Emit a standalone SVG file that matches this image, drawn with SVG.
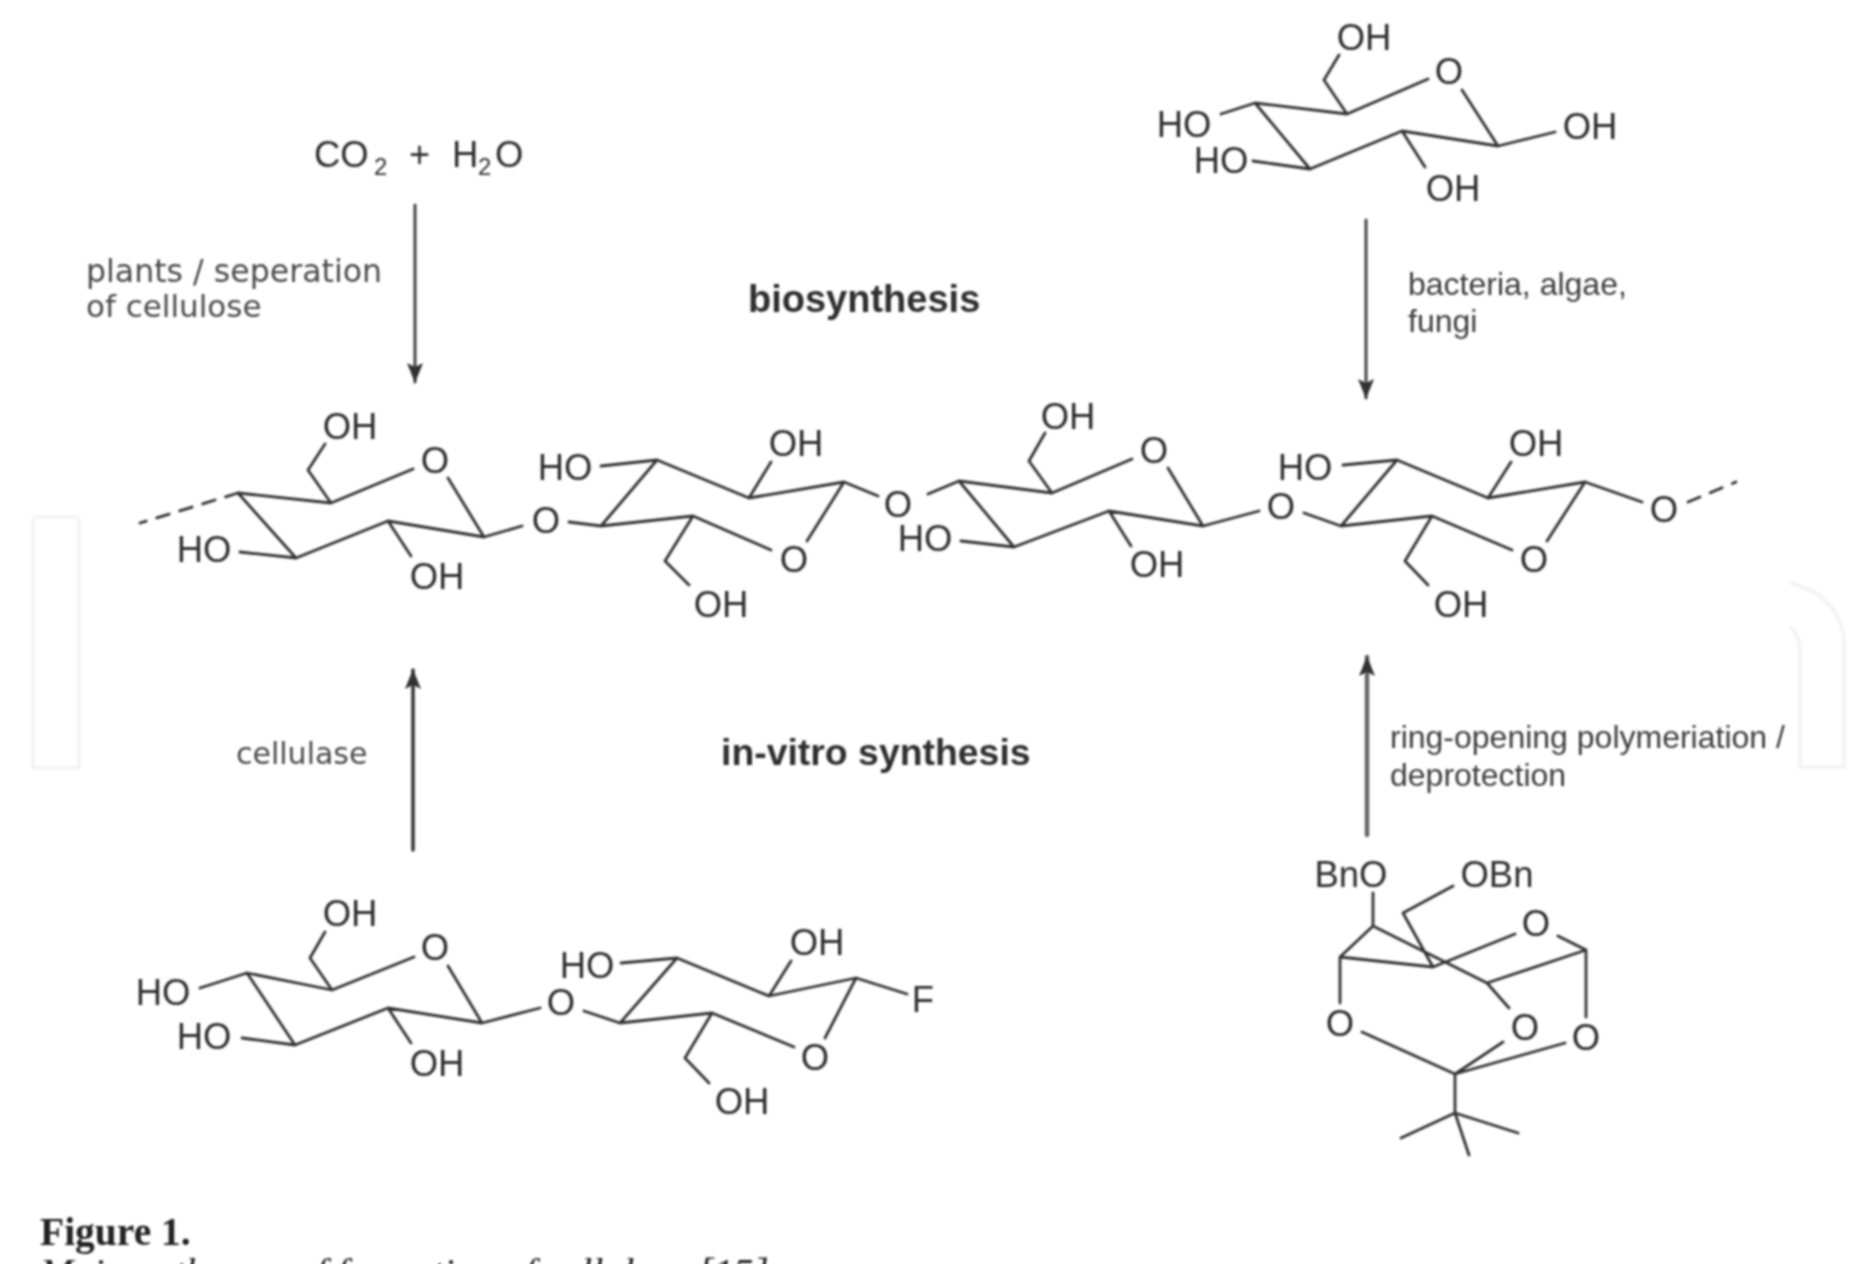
<svg xmlns="http://www.w3.org/2000/svg" width="1865" height="1264" viewBox="0 0 1865 1264">
<style>
.b{fill:none;stroke:#333;stroke-width:2.8;stroke-linecap:round;stroke-linejoin:round}
.d{stroke-dasharray:13 11}
.a{fill:none;stroke:#444;stroke-width:3;stroke-linecap:round}
.w{fill:none;stroke:#f4f4f4;stroke-width:4}
text{font-family:"Liberation Sans",Arial,sans-serif;fill:#2e2e2e}
.t{font-size:36.5px;text-anchor:middle}
.l{font-size:32px;fill:#3c3c3c}
.v{font-family:"DejaVu Sans",sans-serif;font-size:31.6px;fill:#4a4a4a}
.h{font-size:37.4px;font-weight:bold}
.c{font-family:"Liberation Serif",serif;fill:#222}
</style>
<defs>
<marker id="ah" viewBox="0 0 20 20" refX="19" refY="10" markerUnits="userSpaceOnUse" markerWidth="20" markerHeight="20" orient="auto"><path d="M0 2 L20 10 L0 18 L4 10Z" fill="#333"/></marker>
<filter id="s" x="-2%" y="-2%" width="104%" height="104%"><feGaussianBlur stdDeviation="0.95"/></filter>
</defs>
<g filter="url(#s)">
<g id="watermark">
<path class="w" d="M33 766V522q0-5 5-5H74q5 0 5 5V766"/>
<path class="w" d="M33 766q0 2 3 2H76q3 0 3-2"/>
<path class="w" d="M1790 583C1820 590 1844 610 1844 645V767H1800V650C1800 640 1796 632 1790 627"/>
</g>
<g id="connectors">
<line class="a" x1="415" y1="205" x2="415" y2="382" marker-end="url(#ah)"/>
<line class="a" x1="1366" y1="220" x2="1366" y2="398" marker-end="url(#ah)"/>
<line class="a" style="stroke-width:3.5;stroke:#333" x1="413" y1="850" x2="413" y2="670" marker-end="url(#ah)"/>
<line class="a" style="stroke-width:4.5;stroke:#666" x1="1367" y1="835" x2="1367" y2="657" marker-end="url(#ah)"/>
</g>
<g id="glucose-top">
<path class="b" d="M1221 114L1255 103L1347 114L1428 79M1462 90L1498 146L1402 131L1310 169L1255 103M1347 114L1324 80L1339 55M1253 161L1310 169M1498 146L1555 132M1402 131L1425 167"/>
<text class="t" x="1364" y="50">OH</text><text class="t" x="1449" y="84">O</text><text class="t" x="1184" y="137">HO</text><text class="t" x="1221" y="173">HO</text><text class="t" x="1590" y="139">OH</text><text class="t" x="1453" y="201">OH</text>
</g>
<g id="chain-unit-1">
<path class="b d" d="M238 493L140 523"/>
<path class="b" d="M238 493L331 503L413 469M448 478L484 537L388 521L296 558L238 493M331 503L308 470L325 444M240 552L296 558M388 521L411 556M484 537L522 526"/>
<text class="t" x="350" y="439">OH</text><text class="t" x="435" y="473">O</text><text class="t" x="204" y="562">HO</text><text class="t" x="437" y="589">OH</text><text class="t" x="546" y="533">O</text>
</g>
<g id="chain-unit-2">
<path class="b" d="M569 522L601 526L657 460L749 498L844 482L807 541M771 550L693 516L601 526M693 516L665 561L689 585M601 466L657 460M749 498L771 462M844 482L878 496"/>
<text class="t" x="565" y="480">HO</text><text class="t" x="796" y="456">OH</text><text class="t" x="794" y="572">O</text><text class="t" x="721" y="617">OH</text><text class="t" x="898" y="517">O</text>
</g>
<g id="chain-unit-3">
<path class="b" d="M928 494L959 481L1052 493L1132 459M1168 468L1203 526L1109 511L1014 547L959 481M1052 493L1029 461L1045 433M961 541L1014 547M1109 511L1131 546M1203 526L1259 511"/>
<text class="t" x="1068" y="429">OH</text><text class="t" x="1154" y="463">O</text><text class="t" x="925" y="551">HO</text><text class="t" x="1157" y="577">OH</text><text class="t" x="1281" y="519">O</text>
</g>
<g id="chain-unit-4">
<path class="b" d="M1304 513L1341 526L1397 460L1488 498L1585 482L1547 541M1512 550L1432 516L1341 526M1432 516L1405 561L1428 585M1343 465L1397 460M1488 498L1511 462M1585 482L1642 502"/>
<path class="b d" d="M1688 502L1736 482"/>
<text class="t" x="1305" y="480">HO</text><text class="t" x="1536" y="456">OH</text><text class="t" x="1534" y="572">O</text><text class="t" x="1461" y="617">OH</text><text class="t" x="1664" y="522">O</text>
</g>
<g id="disaccharide-fluoride">
<path class="b" d="M200 988L247 973L332 990L414 957M448 966L482 1023L388 1008L295 1045L247 973M332 990L310 958L325 932M242 1038L295 1045M388 1008L411 1043M482 1023L540 1008M584 1011L620 1023L677 958L769 996L856 978L825 1038M794 1047L712 1013L620 1023M712 1013L685 1058L709 1083M621 963L677 958M769 996L791 961M856 978L907 994"/>
<text class="t" x="163" y="1005">HO</text><text class="t" x="204" y="1049">HO</text><text class="t" x="350" y="926">OH</text><text class="t" x="435" y="960">O</text><text class="t" x="437" y="1076">OH</text><text class="t" x="561" y="1015">O</text><text class="t" x="587" y="978">HO</text><text class="t" x="817" y="955">OH</text><text class="t" x="815" y="1070">O</text><text class="t" x="742" y="1114">OH</text><text class="t" x="923" y="1012">F</text>
</g>
<g id="orthoester">
<path class="b" d="M1373 893V926L1340 957V1003M1340 957L1433 967M1373 926L1487 983M1453 886L1403 913L1433 967M1515 934L1433 967M1558 936L1586 950L1487 983L1509 1008M1586 950V1017M1362 1032L1455 1074L1503 1042M1455 1074L1565 1043M1455 1074V1113L1401 1138M1455 1113L1518 1133M1455 1113L1469 1155"/>
<text class="t" x="1351" y="887">BnO</text><text class="t" x="1497" y="887">OBn</text><text class="t" x="1536" y="936">O</text><text class="t" x="1340" y="1036">O</text><text class="t" x="1525" y="1040">O</text><text class="t" x="1586" y="1050">O</text>
</g>
<g id="labels">
<text x="314" y="167" style="font-size:36.5px">CO</text><text x="374" y="175" style="font-size:24px">2</text>
<text x="409" y="167" style="font-size:36px">+</text>
<text x="452" y="167" style="font-size:36.5px">H</text><text x="478" y="175" style="font-size:24px">2</text><text x="495" y="167" style="font-size:36.5px">O</text>
<text class="v" x="86" y="282">plants / seperation</text><text class="v" x="86" y="317" style="font-size:31px">of cellulose</text>
<text class="h" style="font-size:38px" x="748" y="312">biosynthesis</text>
<text class="l" x="1408" y="295">bacteria, algae,</text><text class="l" x="1408" y="332">fungi</text>
<text class="v" style="font-size:30px" x="236" y="764">cellulase</text>
<text class="h" x="721" y="765">in-vitro synthesis</text>
<text class="l" x="1390" y="748">ring-opening polymeriation /</text><text class="l" x="1390" y="786">deprotection</text>
</g>
<g id="caption">
<text class="c" x="40" y="1245" style="font-size:39.5px;font-weight:bold">Figure 1.</text>
<text class="c" x="40" y="1286" style="font-size:40px;font-style:italic">Main pathways of formation of cellulose [15].</text>
</g>
</g>
</svg>
